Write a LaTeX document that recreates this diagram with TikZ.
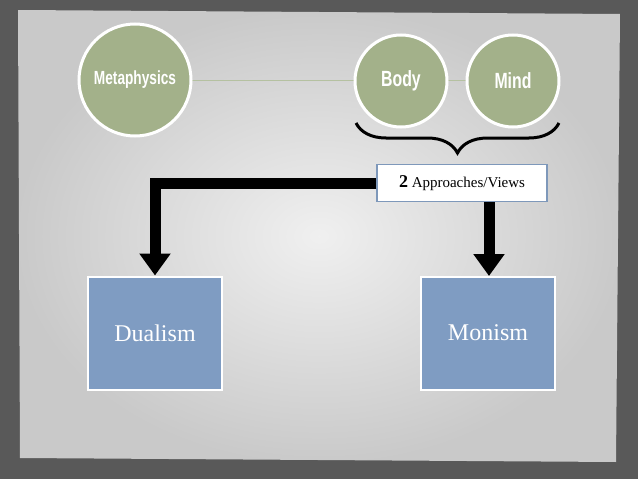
\documentclass[tikz,border=0pt]{standalone}
\usepackage{fontspec}
\setmainfont{Liberation Serif}
\newfontfamily\condfont[FakeStretch=0.72]{Liberation Sans}
\usetikzlibrary{arrows.meta,decorations.pathreplacing}
\definecolor{circ}{HTML}{A3B18A}
\definecolor{boxb}{HTML}{7F9CC2}
\definecolor{boxe}{HTML}{7E98BA}
\begin{document}
\begin{tikzpicture}[x=1pt,y=-1pt,
  circnode/.style={circle,fill=circ,draw=white,line width=3pt,text=white,font=\condfont\bfseries},
  bluebox/.style={rectangle,fill=boxb,draw=white,line width=2pt,minimum width=134pt,minimum height=113pt,text=white,font=\fontsize{24}{26}\selectfont},
  thick arrow/.style={line width=11pt,-{Triangle[width=30pt,length=22pt]}}]
\useasboundingbox (0,0) rectangle (638,479);
\fill[black!65] (0,0) rectangle (638,479);
\shade[inner color=gray!12,outer color=gray!42] (18,10) -- (620,14) -- (616,462) -- (20,458) -- cycle;
\draw[circ!80!white,line width=1pt] (135,80) -- (513,80);
\node[circnode,minimum size=112pt,inner sep=0pt,font=\condfont\bfseries\fontsize{19}{20}\selectfont] (meta) at (135,80) {Metaphysics};
\node[circnode,minimum size=92pt,font=\condfont\bfseries\fontsize{22}{24}\selectfont] (body) at (401,81) {Body};
\node[circnode,minimum size=92pt,font=\condfont\bfseries\fontsize{22}{24}\selectfont] (mind) at (513,81) {Mind};
\coordinate (bl) at (356,123);
\coordinate (br) at (559,123);
\draw[line width=3pt,decorate,decoration={brace,mirror,amplitude=30pt,aspect=0.5}] (bl) -- (br);
\node[draw=boxe,line width=1.5pt,fill=white,minimum width=170pt,minimum height=37pt,font=\fontsize{15}{17}\selectfont] (appr) at (462,183) {{\fontsize{18}{18}\selectfont\bfseries 2} Approaches/Views};
\node[bluebox] (dual) at (155,333) {Dualism};
\node[bluebox] (mon) at (488,333) {Monism};
\draw[thick arrow] (appr.west) -| (dual.north);
\draw[thick arrow] (appr.south -| 489,0) -- (489,276);
\end{tikzpicture}
\end{document}
